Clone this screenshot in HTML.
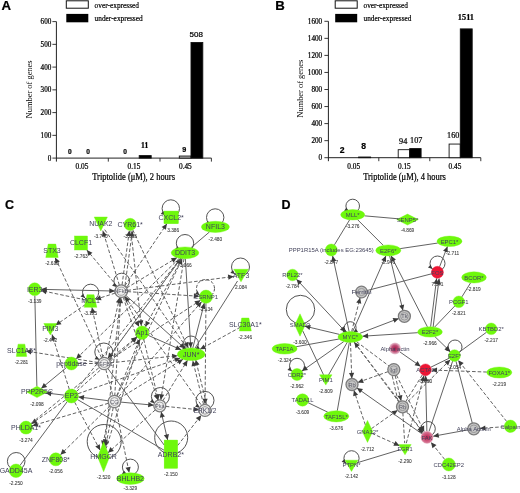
<!DOCTYPE html><html><head><meta charset="utf-8"><style>html,body{margin:0;padding:0;background:#fff;}svg{display:block}</style></head><body>
<svg width="520" height="493" viewBox="0 0 520 493">
<rect width="520" height="493" fill="#fff"/>
<line x1="56.4" y1="21.6" x2="56.4" y2="161.6" stroke="#222" stroke-width="1"/>
<line x1="56.4" y1="158.1" x2="211.4" y2="158.1" stroke="#222" stroke-width="1"/>
<line x1="108.3" y1="158.1" x2="108.3" y2="161.6" stroke="#222" stroke-width="0.9"/>
<line x1="160" y1="158.1" x2="160" y2="161.6" stroke="#222" stroke-width="0.9"/>
<line x1="211.4" y1="158.1" x2="211.4" y2="161.6" stroke="#222" stroke-width="0.9"/>
<line x1="52.4" y1="158.10" x2="56.4" y2="158.10" stroke="#222" stroke-width="0.9"/>
<text x="51.4" y="160.5" font-family="'Liberation Serif', serif" font-size="7.2" text-anchor="end" font-weight="normal" fill="#000" stroke="#000" stroke-width="0.22">0</text>
<line x1="52.4" y1="135.35" x2="56.4" y2="135.35" stroke="#222" stroke-width="0.9"/>
<text x="51.4" y="137.75" font-family="'Liberation Serif', serif" font-size="7.2" text-anchor="end" font-weight="normal" fill="#000" stroke="#000" stroke-width="0.22">100</text>
<line x1="52.4" y1="112.60" x2="56.4" y2="112.60" stroke="#222" stroke-width="0.9"/>
<text x="51.4" y="115.0" font-family="'Liberation Serif', serif" font-size="7.2" text-anchor="end" font-weight="normal" fill="#000" stroke="#000" stroke-width="0.22">200</text>
<line x1="52.4" y1="89.85" x2="56.4" y2="89.85" stroke="#222" stroke-width="0.9"/>
<text x="51.4" y="92.25" font-family="'Liberation Serif', serif" font-size="7.2" text-anchor="end" font-weight="normal" fill="#000" stroke="#000" stroke-width="0.22">300</text>
<line x1="52.4" y1="67.10" x2="56.4" y2="67.10" stroke="#222" stroke-width="0.9"/>
<text x="51.4" y="69.5" font-family="'Liberation Serif', serif" font-size="7.2" text-anchor="end" font-weight="normal" fill="#000" stroke="#000" stroke-width="0.22">400</text>
<line x1="52.4" y1="44.35" x2="56.4" y2="44.35" stroke="#222" stroke-width="0.9"/>
<text x="51.4" y="46.75" font-family="'Liberation Serif', serif" font-size="7.2" text-anchor="end" font-weight="normal" fill="#000" stroke="#000" stroke-width="0.22">500</text>
<line x1="52.4" y1="21.60" x2="56.4" y2="21.60" stroke="#222" stroke-width="0.9"/>
<text x="51.4" y="24.0" font-family="'Liberation Serif', serif" font-size="7.2" text-anchor="end" font-weight="normal" fill="#000" stroke="#000" stroke-width="0.22">600</text>
<rect x="139.2" y="155.60" width="12.0" height="2.50" fill="#000" stroke="#111" stroke-width="0.9"/>
<rect x="179.3" y="156.05" width="11.699999999999989" height="2.05" fill="#bbb" stroke="#111" stroke-width="0.9"/>
<rect x="191" y="42.53" width="11.800000000000011" height="115.57" fill="#000" stroke="#111" stroke-width="0.9"/>
<text x="69.8" y="154.3" font-family="'Liberation Sans', sans-serif" font-size="6.6" text-anchor="middle" font-weight="bold" fill="#000" stroke="#000" stroke-width="0.22">0</text>
<text x="88" y="154.3" font-family="'Liberation Sans', sans-serif" font-size="6.6" text-anchor="middle" font-weight="bold" fill="#000" stroke="#000" stroke-width="0.22">0</text>
<text x="125.2" y="154.3" font-family="'Liberation Sans', sans-serif" font-size="6.6" text-anchor="middle" font-weight="bold" fill="#000" stroke="#000" stroke-width="0.22">0</text>
<text x="144.7" y="147.7" font-family="'Liberation Serif', serif" font-size="7.6" text-anchor="middle" font-weight="bold" fill="#000" stroke="#000" stroke-width="0.22">11</text>
<text x="184.2" y="151.8" font-family="'Liberation Sans', sans-serif" font-size="7.2" text-anchor="middle" font-weight="bold" fill="#000" stroke="#000" stroke-width="0.22">9</text>
<text x="196.2" y="36.9" font-family="'Liberation Sans', sans-serif" font-size="8.0" text-anchor="middle" font-weight="normal" fill="#000" stroke="#000" stroke-width="0.22">508</text>
<text x="82" y="168.7" font-family="'Liberation Serif', serif" font-size="7.3" text-anchor="middle" font-weight="normal" fill="#000" stroke="#000" stroke-width="0.22">0.05</text>
<text x="134" y="168.7" font-family="'Liberation Serif', serif" font-size="7.3" text-anchor="middle" font-weight="normal" fill="#000" stroke="#000" stroke-width="0.22">0.15</text>
<text x="185.4" y="168.7" font-family="'Liberation Serif', serif" font-size="7.3" text-anchor="middle" font-weight="normal" fill="#000" stroke="#000" stroke-width="0.22">0.45</text>
<text x="133.6" y="179.8" font-family="'Liberation Serif', serif" font-size="9.5" text-anchor="middle" font-weight="normal" fill="#000" textLength="82.7" lengthAdjust="spacingAndGlyphs" stroke="#000" stroke-width="0.22">Triptolide (μM), 2 hours</text>
<text transform="translate(32.3,89.4) rotate(-90)" font-family="'Liberation Serif', serif" font-size="8.2" text-anchor="middle" textLength="58" lengthAdjust="spacingAndGlyphs">Number of genes</text>
<rect x="66.3" y="0.8" width="22" height="7.4" fill="#fff" stroke="#111" stroke-width="1"/>
<rect x="66.3" y="13.9" width="22" height="8.4" fill="#000"/>
<text x="94.6" y="7.8999999999999995" font-family="'Liberation Serif', serif" font-size="9.2" text-anchor="start" font-weight="normal" fill="#000" textLength="44.4" lengthAdjust="spacingAndGlyphs" stroke="#000" stroke-width="0.22">over-expressed</text>
<text x="94.6" y="21.2" font-family="'Liberation Serif', serif" font-size="9.2" text-anchor="start" font-weight="normal" fill="#000" textLength="48" lengthAdjust="spacingAndGlyphs" stroke="#000" stroke-width="0.22">under-expressed</text>
<text x="1.5" y="9.6" font-family="'Liberation Sans', sans-serif" font-size="13.2" text-anchor="start" font-weight="bold" fill="#000" stroke="#000" stroke-width="0.22">A</text>
<line x1="328.4" y1="21.3" x2="328.4" y2="161.2" stroke="#222" stroke-width="1"/>
<line x1="328.4" y1="157.7" x2="480.8" y2="157.7" stroke="#222" stroke-width="1"/>
<line x1="378.8" y1="157.7" x2="378.8" y2="161.2" stroke="#222" stroke-width="0.9"/>
<line x1="429.8" y1="157.7" x2="429.8" y2="161.2" stroke="#222" stroke-width="0.9"/>
<line x1="480.8" y1="157.7" x2="480.8" y2="161.2" stroke="#222" stroke-width="0.9"/>
<line x1="324.4" y1="157.70" x2="328.4" y2="157.70" stroke="#222" stroke-width="0.9"/>
<text x="322.2" y="160.1" font-family="'Liberation Serif', serif" font-size="7.2" text-anchor="end" font-weight="normal" fill="#000" stroke="#000" stroke-width="0.22">0</text>
<line x1="324.4" y1="140.65" x2="328.4" y2="140.65" stroke="#222" stroke-width="0.9"/>
<text x="322.2" y="143.05" font-family="'Liberation Serif', serif" font-size="7.2" text-anchor="end" font-weight="normal" fill="#000" stroke="#000" stroke-width="0.22">200</text>
<line x1="324.4" y1="123.60" x2="328.4" y2="123.60" stroke="#222" stroke-width="0.9"/>
<text x="322.2" y="126.0" font-family="'Liberation Serif', serif" font-size="7.2" text-anchor="end" font-weight="normal" fill="#000" stroke="#000" stroke-width="0.22">400</text>
<line x1="324.4" y1="106.55" x2="328.4" y2="106.55" stroke="#222" stroke-width="0.9"/>
<text x="322.2" y="108.95" font-family="'Liberation Serif', serif" font-size="7.2" text-anchor="end" font-weight="normal" fill="#000" stroke="#000" stroke-width="0.22">600</text>
<line x1="324.4" y1="89.50" x2="328.4" y2="89.50" stroke="#222" stroke-width="0.9"/>
<text x="322.2" y="91.9" font-family="'Liberation Serif', serif" font-size="7.2" text-anchor="end" font-weight="normal" fill="#000" stroke="#000" stroke-width="0.22">800</text>
<line x1="324.4" y1="72.45" x2="328.4" y2="72.45" stroke="#222" stroke-width="0.9"/>
<text x="322.2" y="74.85" font-family="'Liberation Serif', serif" font-size="7.2" text-anchor="end" font-weight="normal" fill="#000" stroke="#000" stroke-width="0.22">1000</text>
<line x1="324.4" y1="55.40" x2="328.4" y2="55.40" stroke="#222" stroke-width="0.9"/>
<text x="322.2" y="57.8" font-family="'Liberation Serif', serif" font-size="7.2" text-anchor="end" font-weight="normal" fill="#000" stroke="#000" stroke-width="0.22">1200</text>
<line x1="324.4" y1="38.35" x2="328.4" y2="38.35" stroke="#222" stroke-width="0.9"/>
<text x="322.2" y="40.75" font-family="'Liberation Serif', serif" font-size="7.2" text-anchor="end" font-weight="normal" fill="#000" stroke="#000" stroke-width="0.22">1400</text>
<line x1="324.4" y1="21.30" x2="328.4" y2="21.30" stroke="#222" stroke-width="0.9"/>
<text x="322.2" y="23.7" font-family="'Liberation Serif', serif" font-size="7.2" text-anchor="end" font-weight="normal" fill="#000" stroke="#000" stroke-width="0.22">1600</text>
<rect x="358.6" y="157.02" width="12.0" height="0.68" fill="#000" stroke="#111" stroke-width="0.9"/>
<rect x="398.2" y="149.69" width="11.5" height="8.01" fill="#fff" stroke="#111" stroke-width="0.9"/>
<rect x="409.7" y="148.58" width="11.400000000000034" height="9.12" fill="#000" stroke="#111" stroke-width="0.9"/>
<rect x="449.1" y="144.06" width="11.199999999999989" height="13.64" fill="#fff" stroke="#111" stroke-width="0.9"/>
<rect x="460.3" y="28.89" width="11.899999999999977" height="128.81" fill="#000" stroke="#111" stroke-width="0.9"/>
<text x="342.1" y="152.8" font-family="'Liberation Sans', sans-serif" font-size="8.6" text-anchor="middle" font-weight="bold" fill="#000" stroke="#000" stroke-width="0.22">2</text>
<text x="363.6" y="148.6" font-family="'Liberation Sans', sans-serif" font-size="8.6" text-anchor="middle" font-weight="bold" fill="#000" stroke="#000" stroke-width="0.22">8</text>
<text x="403.2" y="144.0" font-family="'Liberation Serif', serif" font-size="8.2" text-anchor="middle" font-weight="normal" fill="#000" stroke="#000" stroke-width="0.22">94</text>
<text x="416.2" y="143.1" font-family="'Liberation Serif', serif" font-size="8.2" text-anchor="middle" font-weight="normal" fill="#000" stroke="#000" stroke-width="0.22">107</text>
<text x="453.2" y="138.3" font-family="'Liberation Serif', serif" font-size="8.2" text-anchor="middle" font-weight="normal" fill="#000" stroke="#000" stroke-width="0.22">160</text>
<text x="465.9" y="20.0" font-family="'Liberation Serif', serif" font-size="8.3" text-anchor="middle" font-weight="bold" fill="#000" stroke="#000" stroke-width="0.22">1511</text>
<text x="353.7" y="168.7" font-family="'Liberation Serif', serif" font-size="7.3" text-anchor="middle" font-weight="normal" fill="#000" stroke="#000" stroke-width="0.22">0.05</text>
<text x="404.4" y="168.7" font-family="'Liberation Serif', serif" font-size="7.3" text-anchor="middle" font-weight="normal" fill="#000" stroke="#000" stroke-width="0.22">0.15</text>
<text x="455" y="168.7" font-family="'Liberation Serif', serif" font-size="7.3" text-anchor="middle" font-weight="normal" fill="#000" stroke="#000" stroke-width="0.22">0.45</text>
<text x="404.5" y="180.3" font-family="'Liberation Serif', serif" font-size="9.5" text-anchor="middle" font-weight="normal" fill="#000" textLength="82.6" lengthAdjust="spacingAndGlyphs" stroke="#000" stroke-width="0.22">Triptolide (μM), 4 hours</text>
<text transform="translate(302.5,88.7) rotate(-90)" font-family="'Liberation Serif', serif" font-size="8.2" text-anchor="middle" textLength="58" lengthAdjust="spacingAndGlyphs">Number of genes</text>
<rect x="335.2" y="0.8" width="22" height="7.4" fill="#fff" stroke="#111" stroke-width="1"/>
<rect x="335.2" y="13.9" width="22" height="8.4" fill="#000"/>
<text x="363.5" y="7.8999999999999995" font-family="'Liberation Serif', serif" font-size="9.2" text-anchor="start" font-weight="normal" fill="#000" textLength="44.4" lengthAdjust="spacingAndGlyphs" stroke="#000" stroke-width="0.22">over-expressed</text>
<text x="363.5" y="21.2" font-family="'Liberation Serif', serif" font-size="9.2" text-anchor="start" font-weight="normal" fill="#000" textLength="48" lengthAdjust="spacingAndGlyphs" stroke="#000" stroke-width="0.22">under-expressed</text>
<text x="275.3" y="9.6" font-family="'Liberation Sans', sans-serif" font-size="13.2" text-anchor="start" font-weight="bold" fill="#000" stroke="#000" stroke-width="0.22">B</text>
<defs><radialGradient id="gpink" cx="0.5" cy="0.5" r="0.5"><stop offset="0" stop-color="#a01848"/><stop offset="0.55" stop-color="#c05078"/><stop offset="1" stop-color="#ecd0da"/></radialGradient><radialGradient id="gpink2" cx="0.5" cy="0.5" r="0.5"><stop offset="0" stop-color="#c01848"/><stop offset="0.8" stop-color="#d47090"/><stop offset="1" stop-color="#e8b0c0"/></radialGradient></defs>
<circle cx="170.8" cy="208.5" r="8.7" fill="none" stroke="#4a4a4a" stroke-width="0.95"/>
<circle cx="215.2" cy="217.5" r="8.7" fill="none" stroke="#4a4a4a" stroke-width="0.95"/>
<circle cx="185" cy="243.2" r="8.7" fill="none" stroke="#4a4a4a" stroke-width="0.95"/>
<circle cx="240.5" cy="267" r="9" fill="none" stroke="#4a4a4a" stroke-width="0.95"/>
<circle cx="90.6" cy="292.3" r="8.1" fill="none" stroke="#4a4a4a" stroke-width="0.95"/>
<circle cx="121.7" cy="281" r="7.8" fill="none" stroke="#4a4a4a" stroke-width="0.95"/>
<circle cx="205.5" cy="288.5" r="9" fill="none" stroke="#4a4a4a" stroke-width="0.95" stroke-dasharray="3 1.8"/>
<circle cx="103.8" cy="352" r="9" fill="none" stroke="#4a4a4a" stroke-width="0.95"/>
<circle cx="191" cy="343.5" r="7.5" fill="none" stroke="#4a4a4a" stroke-width="0.95"/>
<circle cx="160.4" cy="396.5" r="9" fill="none" stroke="#4a4a4a" stroke-width="0.95"/>
<circle cx="205" cy="400.4" r="9" fill="none" stroke="#4a4a4a" stroke-width="0.95"/>
<circle cx="16.2" cy="461.3" r="8.8" fill="none" stroke="#4a4a4a" stroke-width="0.95"/>
<circle cx="104.2" cy="441.5" r="17" fill="none" stroke="#4a4a4a" stroke-width="0.95"/>
<circle cx="171.2" cy="437.5" r="16.5" fill="none" stroke="#4a4a4a" stroke-width="0.95"/>
<circle cx="130.4" cy="467.1" r="8" fill="none" stroke="#4a4a4a" stroke-width="0.95"/>
<line x1="117.16" y1="286.36" x2="86.84" y2="250.00" stroke="#5a5a5a" stroke-width="0.95" stroke-dasharray="3.6 2.0"/>
<path d="M86.84,250.00 L92.42,252.64 L88.43,255.97Z" fill="#3a3a3a"/>
<line x1="119.37" y1="285.17" x2="102.82" y2="230.66" stroke="#5a5a5a" stroke-width="0.95" stroke-dasharray="3.6 2.0"/>
<path d="M102.82,230.66 L106.94,235.27 L101.96,236.78Z" fill="#3a3a3a"/>
<line x1="122.04" y1="284.96" x2="129.39" y2="230.45" stroke="#5a5a5a" stroke-width="0.95" stroke-dasharray="3.6 2.0"/>
<path d="M129.39,230.45 L131.21,236.34 L126.06,235.65Z" fill="#3a3a3a"/>
<line x1="125.01" y1="285.36" x2="132.36" y2="230.85" stroke="#5a5a5a" stroke-width="0.95" stroke-dasharray="3.6 2.0"/>
<path d="M132.36,230.85 L134.19,236.74 L129.03,236.05Z" fill="#3a3a3a"/>
<line x1="124.73" y1="285.98" x2="166.90" y2="223.75" stroke="#5a5a5a" stroke-width="0.95" stroke-dasharray="3.6 2.0"/>
<path d="M166.90,223.75 L165.91,229.84 L161.60,226.93Z" fill="#3a3a3a"/>
<line x1="126.60" y1="287.95" x2="177.01" y2="257.61" stroke="#5a5a5a" stroke-width="0.95" stroke-dasharray="3.6 2.0"/>
<path d="M177.01,257.61 L173.55,262.73 L170.87,258.27Z" fill="#3a3a3a"/>
<line x1="41.10" y1="289.35" x2="114.90" y2="291.05" stroke="#5a5a5a" stroke-width="0.95"/>
<path d="M114.90,291.05 L109.24,293.52 L109.36,288.33Z" fill="#3a3a3a"/>
<path d="M41.10,289.35 L46.76,286.88 L46.64,292.08Z" fill="#3a3a3a"/>
<line x1="85.60" y1="299.96" x2="40.96" y2="290.52" stroke="#5a5a5a" stroke-width="0.95" stroke-dasharray="3.6 2.0"/>
<path d="M40.96,290.52 L46.98,289.14 L45.90,294.23Z" fill="#3a3a3a"/>
<line x1="115.20" y1="293.12" x2="95.40" y2="299.44" stroke="#5a5a5a" stroke-width="0.95" stroke-dasharray="3.6 2.0"/>
<path d="M95.40,299.44 L99.94,295.26 L101.53,300.21Z" fill="#3a3a3a"/>
<line x1="124.03" y1="296.83" x2="139.09" y2="326.72" stroke="#5a5a5a" stroke-width="0.95" stroke-dasharray="3.6 2.0"/>
<path d="M139.09,326.72 L134.25,322.88 L138.89,320.55Z" fill="#3a3a3a"/>
<line x1="125.88" y1="295.41" x2="184.96" y2="348.58" stroke="#5a5a5a" stroke-width="0.95"/>
<path d="M184.96,348.58 L179.06,346.77 L182.53,342.90Z" fill="#3a3a3a"/>
<line x1="127.49" y1="291.61" x2="199.41" y2="296.27" stroke="#5a5a5a" stroke-width="0.95" stroke-dasharray="3.6 2.0"/>
<path d="M199.41,296.27 L193.66,298.50 L193.99,293.32Z" fill="#3a3a3a"/>
<line x1="127.45" y1="290.38" x2="233.78" y2="276.45" stroke="#5a5a5a" stroke-width="0.95" stroke-dasharray="3.6 2.0"/>
<path d="M233.78,276.45 L228.57,279.75 L227.89,274.60Z" fill="#3a3a3a"/>
<line x1="119.76" y1="297.33" x2="105.62" y2="357.46" stroke="#5a5a5a" stroke-width="0.95" stroke-dasharray="3.6 2.0"/>
<path d="M119.76,297.33 L121.01,303.38 L115.95,302.19Z" fill="#3a3a3a"/>
<line x1="120.81" y1="297.49" x2="114.78" y2="395.31" stroke="#5a5a5a" stroke-width="0.95" stroke-dasharray="3.6 2.0"/>
<path d="M120.81,297.49 L123.06,303.24 L117.87,302.92Z" fill="#3a3a3a"/>
<line x1="120.53" y1="297.46" x2="104.86" y2="444.95" stroke="#5a5a5a" stroke-width="0.95" stroke-dasharray="3.6 2.0"/>
<path d="M104.86,444.95 L102.87,439.11 L108.04,439.65Z" fill="#3a3a3a"/>
<line x1="85.60" y1="304.40" x2="55.40" y2="325.36" stroke="#5a5a5a" stroke-width="0.95" stroke-dasharray="3.6 2.0"/>
<path d="M55.40,325.36 L58.51,320.03 L61.48,324.31Z" fill="#3a3a3a"/>
<line x1="124.82" y1="296.35" x2="201.55" y2="405.49" stroke="#5a5a5a" stroke-width="0.95" stroke-dasharray="3.6 2.0"/>
<path d="M124.82,296.35 L130.17,299.44 L125.92,302.43Z" fill="#3a3a3a"/>
<line x1="101.59" y1="357.87" x2="55.10" y2="257.50" stroke="#5a5a5a" stroke-width="0.95" stroke-dasharray="3.6 2.0"/>
<path d="M55.10,257.50 L59.82,261.49 L55.10,263.67Z" fill="#3a3a3a"/>
<line x1="98.08" y1="362.52" x2="25.80" y2="350.99" stroke="#5a5a5a" stroke-width="0.95" stroke-dasharray="3.6 2.0"/>
<path d="M25.80,350.99 L31.74,349.30 L30.92,354.44Z" fill="#3a3a3a"/>
<line x1="110.36" y1="362.84" x2="177.76" y2="355.64" stroke="#5a5a5a" stroke-width="0.95" stroke-dasharray="3.6 2.0"/>
<path d="M177.76,355.64 L172.47,358.82 L171.92,353.65Z" fill="#3a3a3a"/>
<line x1="109.01" y1="359.59" x2="136.90" y2="336.93" stroke="#5a5a5a" stroke-width="0.95" stroke-dasharray="3.6 2.0"/>
<path d="M136.90,336.93 L134.19,342.47 L130.91,338.44Z" fill="#3a3a3a"/>
<line x1="107.86" y1="358.49" x2="180.89" y2="258.43" stroke="#5a5a5a" stroke-width="0.95" stroke-dasharray="3.6 2.0"/>
<path d="M180.89,258.43 L179.69,264.49 L175.49,261.42Z" fill="#3a3a3a"/>
<line x1="109.38" y1="360.10" x2="200.48" y2="300.32" stroke="#5a5a5a" stroke-width="0.95" stroke-dasharray="3.6 2.0"/>
<path d="M200.48,300.32 L197.23,305.57 L194.37,301.22Z" fill="#3a3a3a"/>
<line x1="105.81" y1="369.49" x2="112.79" y2="395.51" stroke="#5a5a5a" stroke-width="0.95" stroke-dasharray="3.6 2.0"/>
<line x1="102.87" y1="357.44" x2="91.89" y2="307.35" stroke="#5a5a5a" stroke-width="0.95" stroke-dasharray="3.6 2.0"/>
<path d="M91.89,307.35 L95.63,312.26 L90.55,313.38Z" fill="#3a3a3a"/>
<line x1="108.25" y1="400.71" x2="78.34" y2="396.89" stroke="#5a5a5a" stroke-width="0.95"/>
<path d="M78.34,396.89 L84.23,395.02 L83.57,400.18Z" fill="#3a3a3a"/>
<line x1="113.21" y1="407.59" x2="105.57" y2="446.72" stroke="#5a5a5a" stroke-width="0.95" stroke-dasharray="3.6 2.0"/>
<path d="M105.57,446.72 L104.09,440.73 L109.19,441.72Z" fill="#3a3a3a"/>
<line x1="110.27" y1="407.01" x2="102.62" y2="446.15" stroke="#5a5a5a" stroke-width="0.95" stroke-dasharray="3.6 2.0"/>
<path d="M102.62,446.15 L101.15,440.15 L106.25,441.15Z" fill="#3a3a3a"/>
<line x1="115.66" y1="407.57" x2="129.20" y2="472.82" stroke="#5a5a5a" stroke-width="0.95" stroke-dasharray="3.6 2.0"/>
<path d="M129.20,472.82 L125.52,467.87 L130.61,466.81Z" fill="#3a3a3a"/>
<line x1="109.99" y1="405.85" x2="60.43" y2="454.74" stroke="#5a5a5a" stroke-width="0.95" stroke-dasharray="3.6 2.0"/>
<path d="M60.43,454.74 L62.59,448.95 L66.24,452.65Z" fill="#3a3a3a"/>
<line x1="108.45" y1="403.26" x2="32.23" y2="425.76" stroke="#5a5a5a" stroke-width="0.95" stroke-dasharray="3.6 2.0"/>
<path d="M32.23,425.76 L36.87,421.68 L38.34,426.67Z" fill="#3a3a3a"/>
<line x1="119.68" y1="398.25" x2="182.98" y2="359.26" stroke="#5a5a5a" stroke-width="0.95" stroke-dasharray="3.6 2.0"/>
<path d="M182.98,359.26 L179.58,364.41 L176.85,359.98Z" fill="#3a3a3a"/>
<line x1="117.06" y1="395.90" x2="182.25" y2="258.58" stroke="#5a5a5a" stroke-width="0.95" stroke-dasharray="3.6 2.0"/>
<path d="M182.25,258.58 L182.20,264.76 L177.50,262.53Z" fill="#3a3a3a"/>
<line x1="120.57" y1="402.08" x2="153.83" y2="405.23" stroke="#5a5a5a" stroke-width="0.95"/>
<path d="M153.83,405.23 L148.01,407.29 L148.50,402.12Z" fill="#3a3a3a"/>
<line x1="123.21" y1="297.17" x2="157.88" y2="400.11" stroke="#5a5a5a" stroke-width="0.95" stroke-dasharray="3.6 2.0"/>
<path d="M157.88,400.11 L153.63,395.64 L158.56,393.98Z" fill="#3a3a3a"/>
<line x1="161.14" y1="411.65" x2="167.65" y2="440.05" stroke="#5a5a5a" stroke-width="0.95"/>
<path d="M167.65,440.05 L163.87,435.17 L168.94,434.01Z" fill="#3a3a3a"/>
<path d="M161.14,411.65 L164.93,416.53 L159.86,417.69Z" fill="#3a3a3a"/>
<line x1="165.77" y1="406.41" x2="199.03" y2="409.79" stroke="#5a5a5a" stroke-width="0.95" stroke-dasharray="3.6 2.0"/>
<path d="M199.03,409.79 L193.20,411.81 L193.72,406.64Z" fill="#3a3a3a"/>
<line x1="143.68" y1="339.21" x2="158.39" y2="399.97" stroke="#5a5a5a" stroke-width="0.95" stroke-dasharray="3.6 2.0"/>
<path d="M158.39,399.97 L154.54,395.14 L159.60,393.91Z" fill="#3a3a3a"/>
<line x1="184.03" y1="258.69" x2="160.78" y2="399.88" stroke="#5a5a5a" stroke-width="0.95" stroke-dasharray="3.6 2.0"/>
<path d="M160.78,399.88 L159.12,393.93 L164.25,394.78Z" fill="#3a3a3a"/>
<line x1="177.65" y1="445.53" x2="201.31" y2="415.13" stroke="#5a5a5a" stroke-width="0.95" stroke-dasharray="3.6 2.0"/>
<path d="M201.31,415.13 L199.93,421.15 L195.82,417.96Z" fill="#3a3a3a"/>
<line x1="203.57" y1="404.57" x2="192.74" y2="360.46" stroke="#5a5a5a" stroke-width="0.95" stroke-dasharray="3.6 2.0"/>
<path d="M192.74,360.46 L196.60,365.28 L191.55,366.52Z" fill="#3a3a3a"/>
<line x1="195.03" y1="348.15" x2="237.52" y2="281.00" stroke="#5a5a5a" stroke-width="0.95"/>
<line x1="192.81" y1="347.94" x2="204.35" y2="303.09" stroke="#5a5a5a" stroke-width="0.95"/>
<path d="M204.35,303.09 L205.48,309.16 L200.44,307.87Z" fill="#3a3a3a"/>
<line x1="191.19" y1="247.53" x2="209.45" y2="231.97" stroke="#5a5a5a" stroke-width="0.95"/>
<line x1="185.36" y1="258.70" x2="190.81" y2="347.90" stroke="#5a5a5a" stroke-width="0.95"/>
<path d="M190.81,347.90 L187.88,342.47 L193.07,342.15Z" fill="#3a3a3a"/>
<line x1="240.50" y1="327.14" x2="200.02" y2="349.36" stroke="#5a5a5a" stroke-width="0.95" stroke-dasharray="3.6 2.0"/>
<path d="M200.02,349.36 L203.68,344.38 L206.18,348.94Z" fill="#3a3a3a"/>
<line x1="64.45" y1="395.17" x2="45.61" y2="392.93" stroke="#5a5a5a" stroke-width="0.95"/>
<path d="M45.61,392.93 L51.48,391.01 L50.86,396.17Z" fill="#3a3a3a"/>
<line x1="67.23" y1="401.63" x2="20.05" y2="465.34" stroke="#5a5a5a" stroke-width="0.95"/>
<line x1="65.65" y1="400.00" x2="31.33" y2="423.89" stroke="#5a5a5a" stroke-width="0.95" stroke-dasharray="3.6 2.0"/>
<path d="M31.33,423.89 L34.45,418.55 L37.42,422.82Z" fill="#3a3a3a"/>
<line x1="66.39" y1="367.64" x2="41.17" y2="388.46" stroke="#5a5a5a" stroke-width="0.95"/>
<path d="M41.17,388.46 L43.83,382.89 L47.14,386.90Z" fill="#3a3a3a"/>
<line x1="34.84" y1="295.60" x2="36.87" y2="386.27" stroke="#5a5a5a" stroke-width="0.95"/>
<line x1="148.24" y1="335.39" x2="181.24" y2="349.84" stroke="#5a5a5a" stroke-width="0.95"/>
<path d="M181.24,349.84 L175.07,349.97 L177.15,345.21Z" fill="#3a3a3a"/>
<line x1="130.87" y1="230.46" x2="141.37" y2="326.04" stroke="#5a5a5a" stroke-width="0.95" stroke-dasharray="3.6 2.0"/>
<path d="M141.37,326.04 L138.17,320.76 L143.34,320.19Z" fill="#3a3a3a"/>
<line x1="132.79" y1="229.92" x2="188.31" y2="348.04" stroke="#5a5a5a" stroke-width="0.95" stroke-dasharray="3.6 2.0"/>
<path d="M188.31,348.04 L183.57,344.08 L188.28,341.87Z" fill="#3a3a3a"/>
<line x1="181.91" y1="258.55" x2="145.27" y2="326.80" stroke="#5a5a5a" stroke-width="0.95" stroke-dasharray="3.6 2.0"/>
<path d="M145.27,326.80 L145.63,320.63 L150.21,323.09Z" fill="#3a3a3a"/>
<line x1="179.46" y1="258.20" x2="76.06" y2="358.96" stroke="#5a5a5a" stroke-width="0.95" stroke-dasharray="3.6 2.0"/>
<path d="M76.06,358.96 L78.25,353.19 L81.88,356.92Z" fill="#3a3a3a"/>
<line x1="104.71" y1="229.64" x2="187.03" y2="348.19" stroke="#5a5a5a" stroke-width="0.95" stroke-dasharray="3.6 2.0"/>
<line x1="107.87" y1="368.49" x2="164.15" y2="445.02" stroke="#5a5a5a" stroke-width="0.95"/>
<line x1="205.94" y1="303.30" x2="205.05" y2="404.40" stroke="#5a5a5a" stroke-width="0.95" stroke-dasharray="3.6 2.0"/>
<path d="M205.05,404.40 L202.50,398.78 L207.70,398.82Z" fill="#3a3a3a"/>
<line x1="77.44" y1="399.53" x2="164.15" y2="450.25" stroke="#5a5a5a" stroke-width="0.95"/>
<line x1="74.68" y1="402.19" x2="100.18" y2="450.35" stroke="#5a5a5a" stroke-width="0.95" stroke-dasharray="3.6 2.0"/>
<path d="M100.18,450.35 L95.26,446.61 L99.86,444.18Z" fill="#3a3a3a"/>
<line x1="155.36" y1="409.83" x2="108.00" y2="452.81" stroke="#5a5a5a" stroke-width="0.95" stroke-dasharray="3.6 2.0"/>
<path d="M108.00,452.81 L110.40,447.12 L113.90,450.97Z" fill="#3a3a3a"/>
<line x1="69.30" y1="389.32" x2="52.03" y2="334.39" stroke="#5a5a5a" stroke-width="0.95" stroke-dasharray="3.6 2.0"/>
<path d="M52.03,334.39 L56.19,338.96 L51.23,340.52Z" fill="#3a3a3a"/>
<line x1="162.92" y1="400.67" x2="187.51" y2="360.27" stroke="#5a5a5a" stroke-width="0.95" stroke-dasharray="3.6 2.0"/>
<path d="M187.51,360.27 L186.82,366.41 L182.37,363.70Z" fill="#3a3a3a"/>
<line x1="206.48" y1="403.86" x2="195.65" y2="359.75" stroke="#5a5a5a" stroke-width="0.95" stroke-dasharray="3.6 2.0"/>
<path d="M195.65,359.75 L199.51,364.56 L194.46,365.80Z" fill="#3a3a3a"/>
<line x1="180.57" y1="258.39" x2="75.75" y2="390.52" stroke="#5a5a5a" stroke-width="0.95" stroke-dasharray="3.6 2.0"/>
<line x1="140.11" y1="339.10" x2="106.22" y2="448.35" stroke="#5a5a5a" stroke-width="0.95" stroke-dasharray="3.6 2.0"/>
<line x1="180.89" y1="258.43" x2="107.86" y2="358.49" stroke="#5a5a5a" stroke-width="0.95" stroke-dasharray="3.6 2.0"/>
<path d="M107.86,358.49 L109.06,352.44 L113.26,355.50Z" fill="#3a3a3a"/>
<line x1="76.62" y1="391.33" x2="137.11" y2="337.17" stroke="#5a5a5a" stroke-width="0.95" stroke-dasharray="3.6 2.0"/>
<path d="M137.11,337.17 L134.67,342.84 L131.20,338.97Z" fill="#3a3a3a"/>
<line x1="78.01" y1="393.69" x2="180.24" y2="358.03" stroke="#5a5a5a" stroke-width="0.95" stroke-dasharray="3.6 2.0"/>
<path d="M180.24,358.03 L175.80,362.33 L174.09,357.42Z" fill="#3a3a3a"/>
<line x1="116.72" y1="395.75" x2="139.60" y2="338.92" stroke="#5a5a5a" stroke-width="0.95" stroke-dasharray="3.6 2.0"/>
<path d="M139.60,338.92 L139.92,345.08 L135.09,343.14Z" fill="#3a3a3a"/>
<line x1="77.90" y1="363.50" x2="98.00" y2="363.50" stroke="#5a5a5a" stroke-width="0.95" stroke-dasharray="3.6 2.0"/>
<line x1="31.03" y1="423.48" x2="99.41" y2="367.43" stroke="#5a5a5a" stroke-width="0.95" stroke-dasharray="3.6 2.0"/>
<line x1="118.48" y1="396.83" x2="201.66" y2="301.67" stroke="#5a5a5a" stroke-width="0.95" stroke-dasharray="3.6 2.0"/>
<path d="M201.66,301.67 L199.93,307.60 L196.01,304.17Z" fill="#3a3a3a"/>
<path d="M165.24,215.19 L160.73,214.05 L163.29,210.97Z" fill="#3a3a3a"/>
<path d="M210.26,224.66 L205.67,223.93 L207.94,220.63Z" fill="#3a3a3a"/>
<path d="M179.74,250.13 L175.18,249.18 L177.60,246.00Z" fill="#3a3a3a"/>
<path d="M234.92,274.06 L230.38,273.02 L232.86,269.88Z" fill="#3a3a3a"/>
<path d="M84.88,298.04 L80.50,296.49 L83.32,293.66Z" fill="#3a3a3a"/>
<path d="M116.60,286.90 L112.11,285.66 L114.73,282.64Z" fill="#3a3a3a"/>
<path d="M199.56,295.26 L195.08,293.99 L197.72,290.99Z" fill="#3a3a3a"/>
<path d="M99.25,359.77 L94.62,359.37 L96.64,355.92Z" fill="#3a3a3a"/>
<path d="M186.79,349.70 L182.19,349.00 L184.44,345.69Z" fill="#3a3a3a"/>
<path d="M195.44,349.54 L197.64,345.44 L200.01,348.67Z" fill="#3a3a3a"/>
<path d="M154.39,403.20 L149.93,401.89 L152.60,398.91Z" fill="#3a3a3a"/>
<path d="M199.67,407.65 L195.10,406.77 L197.47,403.55Z" fill="#3a3a3a"/>
<path d="M126.66,474.17 L122.01,473.97 L123.88,470.44Z" fill="#3a3a3a"/>
<path d="M94.20,217.00 L107.40,217.00 L100.80,231.00Z" fill="#6ef80c" stroke="#6ef80c" stroke-width="0.4"/>
<circle cx="130.2" cy="224.4" r="6.1" fill="#6ef80c" stroke="#6ef80c" stroke-width="0.4"/>
<rect x="163.95" y="211.05" width="14.5" height="12.7" fill="#6ef80c" stroke="#6ef80c" stroke-width="0.4"/>
<ellipse cx="215.4" cy="226.9" rx="14" ry="5.6" fill="#6ef80c" stroke="#6ef80c" stroke-width="0.4"/>
<rect x="74.50" y="236.00" width="13" height="14" fill="#6ef80c" stroke="#6ef80c" stroke-width="0.4"/>
<path d="M48.20,244.10 L55.80,244.10 L58.20,257.50 L45.80,257.50Z" fill="#6ef80c" stroke="#6ef80c" stroke-width="0.4"/>
<ellipse cx="185" cy="252.8" rx="13.8" ry="5.9" fill="#6ef80c" stroke="#6ef80c" stroke-width="0.4"/>
<path d="M233.70,269.30 L248.30,269.30 L241.00,281.80Z" fill="#6ef80c" stroke="#6ef80c" stroke-width="0.4"/>
<circle cx="34.7" cy="289.2" r="6.4" fill="#6ef80c" stroke="#6ef80c" stroke-width="0.4"/>
<path d="M87.00,294.65 L94.00,294.65 L96.80,307.35 L84.20,307.35Z" fill="#6ef80c" stroke="#6ef80c" stroke-width="0.4"/>
<circle cx="121.2" cy="291.2" r="6.3" fill="#efefef" stroke="#7c7c7c" stroke-width="1.3"/>
<circle cx="121.2" cy="291.2" r="4.10" fill="none" stroke="#959595" stroke-width="0.9"/>
<circle cx="206" cy="296.7" r="6.6" fill="#6ef80c" stroke="#6ef80c" stroke-width="0.4"/>
<path d="M43.80,323.50 L56.80,323.50 L50.30,334.90Z" fill="#6ef80c" stroke="#6ef80c" stroke-width="0.4"/>
<circle cx="142.1" cy="332.7" r="6.7" fill="#6ef80c" stroke="#6ef80c" stroke-width="0.4"/>
<path d="M241.70,318.00 L248.90,318.00 L251.30,331.00 L239.30,331.00Z" fill="#6ef80c" stroke="#6ef80c" stroke-width="0.4"/>
<path d="M18.10,344.15 L24.90,344.15 L26.70,356.45 L16.30,356.45Z" fill="#6ef80c" stroke="#6ef80c" stroke-width="0.4"/>
<circle cx="71.4" cy="363.5" r="6.5" fill="#6ef80c" stroke="#6ef80c" stroke-width="0.4"/>
<circle cx="104.2" cy="363.5" r="6.2" fill="#efefef" stroke="#7c7c7c" stroke-width="1.3"/>
<circle cx="104.2" cy="363.5" r="4.00" fill="none" stroke="#959595" stroke-width="0.9"/>
<ellipse cx="191.2" cy="354.2" rx="13.8" ry="6.3" fill="#6ef80c" stroke="#6ef80c" stroke-width="0.4"/>
<path d="M37.00,386.20 L47.50,391.90 L37.00,397.60 L26.50,391.90Z" fill="#6ef80c" stroke="#6ef80c" stroke-width="0.4"/>
<circle cx="71.4" cy="396" r="7" fill="#6ef80c" stroke="#6ef80c" stroke-width="0.4"/>
<circle cx="114.4" cy="401.5" r="6.2" fill="#efefef" stroke="#7c7c7c" stroke-width="1.3"/>
<circle cx="114.4" cy="401.5" r="4.00" fill="none" stroke="#959595" stroke-width="0.9"/>
<circle cx="159.8" cy="405.8" r="6" fill="#efefef" stroke="#7c7c7c" stroke-width="1.3"/>
<circle cx="159.8" cy="405.8" r="3.80" fill="none" stroke="#959595" stroke-width="0.9"/>
<circle cx="205" cy="410.4" r="6" fill="#efefef" stroke="#7c7c7c" stroke-width="1.3"/>
<circle cx="205" cy="410.4" r="3.80" fill="none" stroke="#959595" stroke-width="0.9"/>
<circle cx="26" cy="427.6" r="6.5" fill="#6ef80c" stroke="#6ef80c" stroke-width="0.4"/>
<circle cx="55.8" cy="459.3" r="6.5" fill="#6ef80c" stroke="#6ef80c" stroke-width="0.4"/>
<circle cx="16" cy="470.8" r="6.8" fill="#6ef80c" stroke="#6ef80c" stroke-width="0.4"/>
<path d="M103.60,441.80 L109.60,456.80 L103.60,471.80 L97.60,456.80Z" fill="#6ef80c" stroke="#6ef80c" stroke-width="0.4"/>
<rect x="164.15" y="440.05" width="13.5" height="28.3" fill="#6ef80c" stroke="#6ef80c" stroke-width="0.4"/>
<ellipse cx="130.4" cy="478.6" rx="13.8" ry="5.8" fill="#6ef80c" stroke="#6ef80c" stroke-width="0.4"/>
<text x="100.80" y="226.30" font-family="'Liberation Sans', sans-serif" font-size="7.0" text-anchor="middle" fill="#42425a">NUAK2</text>
<text x="100.80" y="238.30" font-family="'Liberation Sans', sans-serif" font-size="4.8" text-anchor="middle" fill="#3c3c3c" stroke="#3c3c3c" stroke-width="0.08">-3.740</text>
<text x="130.20" y="226.70" font-family="'Liberation Sans', sans-serif" font-size="7.0" text-anchor="middle" fill="#42425a">CYR61*</text>
<text x="130.20" y="238.00" font-family="'Liberation Sans', sans-serif" font-size="4.8" text-anchor="middle" fill="#3c3c3c" stroke="#3c3c3c" stroke-width="0.08">-3.085</text>
<text x="171.20" y="219.70" font-family="'Liberation Sans', sans-serif" font-size="7.0" text-anchor="middle" fill="#42425a">CXCL2*</text>
<text x="173.20" y="231.55" font-family="'Liberation Sans', sans-serif" font-size="4.8" text-anchor="middle" fill="#3c3c3c" stroke="#3c3c3c" stroke-width="0.08">3.386</text>
<text x="215.40" y="229.20" font-family="'Liberation Sans', sans-serif" font-size="7.0" text-anchor="middle" fill="#42425a">NFIL3</text>
<text x="215.40" y="241.00" font-family="'Liberation Sans', sans-serif" font-size="4.8" text-anchor="middle" fill="#3c3c3c" stroke="#3c3c3c" stroke-width="0.08">-2.480</text>
<text x="81.00" y="245.30" font-family="'Liberation Sans', sans-serif" font-size="7.0" text-anchor="middle" fill="#42425a">CLCF1</text>
<text x="81.00" y="257.80" font-family="'Liberation Sans', sans-serif" font-size="4.8" text-anchor="middle" fill="#3c3c3c" stroke="#3c3c3c" stroke-width="0.08">-2.763</text>
<text x="52.00" y="253.10" font-family="'Liberation Sans', sans-serif" font-size="7.0" text-anchor="middle" fill="#42425a">STX3</text>
<text x="52.00" y="265.30" font-family="'Liberation Sans', sans-serif" font-size="4.8" text-anchor="middle" fill="#3c3c3c" stroke="#3c3c3c" stroke-width="0.08">-2.610</text>
<text x="185.00" y="255.10" font-family="'Liberation Sans', sans-serif" font-size="7.0" text-anchor="middle" fill="#42425a">DDIT3</text>
<text x="185.00" y="267.00" font-family="'Liberation Sans', sans-serif" font-size="4.8" text-anchor="middle" fill="#3c3c3c" stroke="#3c3c3c" stroke-width="0.08">-3.066</text>
<text x="241.00" y="277.80" font-family="'Liberation Sans', sans-serif" font-size="7.0" text-anchor="middle" fill="#42425a">ATF3</text>
<text x="241.00" y="289.10" font-family="'Liberation Sans', sans-serif" font-size="4.8" text-anchor="middle" fill="#3c3c3c" stroke="#3c3c3c" stroke-width="0.08">2.084</text>
<text x="34.70" y="291.50" font-family="'Liberation Sans', sans-serif" font-size="7.0" text-anchor="middle" fill="#42425a">IER3</text>
<text x="34.70" y="303.10" font-family="'Liberation Sans', sans-serif" font-size="4.8" text-anchor="middle" fill="#3c3c3c" stroke="#3c3c3c" stroke-width="0.08">-3.139</text>
<text x="90.50" y="303.30" font-family="'Liberation Sans', sans-serif" font-size="7.0" text-anchor="middle" fill="#42425a">MCL1</text>
<text x="90.50" y="315.15" font-family="'Liberation Sans', sans-serif" font-size="4.8" text-anchor="middle" fill="#3c3c3c" stroke="#3c3c3c" stroke-width="0.08">-3.125</text>
<text x="121.20" y="293.20" font-family="'Liberation Sans', sans-serif" font-size="5.6" text-anchor="middle" fill="#5a5a66">NFkB</text>
<text x="206.00" y="299.00" font-family="'Liberation Sans', sans-serif" font-size="6.0" text-anchor="middle" fill="#42425a">CSRNP1</text>
<text x="206.00" y="310.80" font-family="'Liberation Sans', sans-serif" font-size="4.8" text-anchor="middle" fill="#3c3c3c" stroke="#3c3c3c" stroke-width="0.08">-2.134</text>
<text x="50.30" y="331.20" font-family="'Liberation Sans', sans-serif" font-size="7.0" text-anchor="middle" fill="#42425a">PIM3</text>
<text x="50.30" y="342.20" font-family="'Liberation Sans', sans-serif" font-size="4.8" text-anchor="middle" fill="#3c3c3c" stroke="#3c3c3c" stroke-width="0.08">-2.442</text>
<text x="142.10" y="335.00" font-family="'Liberation Sans', sans-serif" font-size="7.0" text-anchor="middle" fill="#42425a">Ap1</text>
<text x="245.30" y="326.80" font-family="'Liberation Sans', sans-serif" font-size="7.0" text-anchor="middle" fill="#42425a">SLC30A1*</text>
<text x="245.30" y="338.80" font-family="'Liberation Sans', sans-serif" font-size="4.8" text-anchor="middle" fill="#3c3c3c" stroke="#3c3c3c" stroke-width="0.08">-2.346</text>
<text x="21.50" y="352.60" font-family="'Liberation Sans', sans-serif" font-size="7.0" text-anchor="middle" fill="#42425a">SLC1A5*</text>
<text x="21.50" y="364.25" font-family="'Liberation Sans', sans-serif" font-size="4.8" text-anchor="middle" fill="#3c3c3c" stroke="#3c3c3c" stroke-width="0.08">-2.281</text>
<text x="71.40" y="365.80" font-family="'Liberation Sans', sans-serif" font-size="7.0" text-anchor="middle" fill="#42425a">peptidase</text>
<text x="104.20" y="365.50" font-family="'Liberation Sans', sans-serif" font-size="5.6" text-anchor="middle" fill="#5a5a66">TGFB1</text>
<text x="191.20" y="356.50" font-family="'Liberation Sans', sans-serif" font-size="7.0" text-anchor="middle" fill="#42425a">JUN*</text>
<text x="37.00" y="394.20" font-family="'Liberation Sans', sans-serif" font-size="7.0" text-anchor="middle" fill="#42425a">PPP2R5C</text>
<text x="37.00" y="405.90" font-family="'Liberation Sans', sans-serif" font-size="4.8" text-anchor="middle" fill="#3c3c3c" stroke="#3c3c3c" stroke-width="0.08">-2.098</text>
<text x="71.40" y="398.30" font-family="'Liberation Sans', sans-serif" font-size="7.0" text-anchor="middle" fill="#42425a">EP2</text>
<text x="114.40" y="403.50" font-family="'Liberation Sans', sans-serif" font-size="5.6" text-anchor="middle" fill="#5a5a66">CG</text>
<text x="159.80" y="407.80" font-family="'Liberation Sans', sans-serif" font-size="5.6" text-anchor="middle" fill="#5a5a66">Pka</text>
<text x="205.00" y="412.70" font-family="'Liberation Sans', sans-serif" font-size="6.6" text-anchor="middle" fill="#42425a">ERK1/2</text>
<text x="26.00" y="429.90" font-family="'Liberation Sans', sans-serif" font-size="7.0" text-anchor="middle" fill="#42425a">PHLDA1*</text>
<text x="26.00" y="441.60" font-family="'Liberation Sans', sans-serif" font-size="4.8" text-anchor="middle" fill="#3c3c3c" stroke="#3c3c3c" stroke-width="0.08">-3.274</text>
<text x="55.80" y="461.60" font-family="'Liberation Sans', sans-serif" font-size="7.0" text-anchor="middle" fill="#42425a">ZNF808*</text>
<text x="55.80" y="473.30" font-family="'Liberation Sans', sans-serif" font-size="4.8" text-anchor="middle" fill="#3c3c3c" stroke="#3c3c3c" stroke-width="0.08">-2.056</text>
<text x="16.00" y="473.10" font-family="'Liberation Sans', sans-serif" font-size="7.0" text-anchor="middle" fill="#42425a">GADD45A</text>
<text x="16.00" y="485.10" font-family="'Liberation Sans', sans-serif" font-size="4.8" text-anchor="middle" fill="#3c3c3c" stroke="#3c3c3c" stroke-width="0.08">-2.250</text>
<text x="103.60" y="459.10" font-family="'Liberation Sans', sans-serif" font-size="7.0" text-anchor="middle" fill="#42425a">HMGCR</text>
<text x="103.60" y="478.60" font-family="'Liberation Sans', sans-serif" font-size="4.8" text-anchor="middle" fill="#3c3c3c" stroke="#3c3c3c" stroke-width="0.08">-2.520</text>
<text x="170.90" y="456.50" font-family="'Liberation Sans', sans-serif" font-size="7.0" text-anchor="middle" fill="#42425a">ADRB2*</text>
<text x="170.90" y="476.00" font-family="'Liberation Sans', sans-serif" font-size="4.8" text-anchor="middle" fill="#3c3c3c" stroke="#3c3c3c" stroke-width="0.08">-2.150</text>
<text x="130.40" y="480.90" font-family="'Liberation Sans', sans-serif" font-size="7.0" text-anchor="middle" fill="#42425a">BHLHB2</text>
<text x="130.40" y="490.40" font-family="'Liberation Sans', sans-serif" font-size="4.8" text-anchor="middle" fill="#3c3c3c" stroke="#3c3c3c" stroke-width="0.08">-3.329</text>
<circle cx="352.7" cy="206" r="6.8" fill="none" stroke="#4a4a4a" stroke-width="0.95"/>
<circle cx="437.5" cy="263.5" r="7.5" fill="none" stroke="#4a4a4a" stroke-width="0.95"/>
<circle cx="300.5" cy="309.5" r="14.2" fill="none" stroke="#4a4a4a" stroke-width="0.95"/>
<circle cx="350.2" cy="327.6" r="5.9" fill="none" stroke="#4a4a4a" stroke-width="0.95"/>
<circle cx="455" cy="347" r="7" fill="none" stroke="#4a4a4a" stroke-width="0.95"/>
<circle cx="297" cy="365.8" r="7.5" fill="none" stroke="#4a4a4a" stroke-width="0.95"/>
<circle cx="428" cy="428.8" r="7.3" fill="none" stroke="#4a4a4a" stroke-width="0.95"/>
<circle cx="351.5" cy="458.3" r="7.6" fill="none" stroke="#4a4a4a" stroke-width="0.95"/>
<line x1="349.64" y1="219.83" x2="334.42" y2="244.87" stroke="#5a5a5a" stroke-width="0.95"/>
<line x1="357.47" y1="219.57" x2="383.27" y2="245.37" stroke="#5a5a5a" stroke-width="0.95"/>
<line x1="364.46" y1="215.83" x2="398.28" y2="218.79" stroke="#5a5a5a" stroke-width="0.95"/>
<line x1="400.14" y1="248.64" x2="437.73" y2="243.05" stroke="#5a5a5a" stroke-width="0.95"/>
<line x1="349.13" y1="331.62" x2="332.58" y2="255.86" stroke="#5a5a5a" stroke-width="0.95"/>
<path d="M332.58,255.86 L336.32,260.78 L331.23,261.89Z" fill="#3a3a3a"/>
<line x1="385.93" y1="255.80" x2="352.63" y2="331.70" stroke="#5a5a5a" stroke-width="0.95"/>
<path d="M385.93,255.80 L386.06,261.97 L381.30,259.88Z" fill="#3a3a3a"/>
<line x1="389.64" y1="255.87" x2="402.98" y2="310.47" stroke="#5a5a5a" stroke-width="0.95"/>
<path d="M402.98,310.47 L399.12,305.65 L404.17,304.41Z" fill="#3a3a3a"/>
<line x1="391.05" y1="255.77" x2="427.40" y2="326.82" stroke="#5a5a5a" stroke-width="0.95"/>
<path d="M391.05,255.77 L395.91,259.57 L391.28,261.94Z" fill="#3a3a3a"/>
<line x1="367.11" y1="290.54" x2="431.59" y2="273.81" stroke="#5a5a5a" stroke-width="0.95"/>
<line x1="351.64" y1="331.63" x2="360.10" y2="297.63" stroke="#5a5a5a" stroke-width="0.95" stroke-dasharray="3.6 2.0"/>
<path d="M360.10,297.63 L361.27,303.69 L356.22,302.43Z" fill="#3a3a3a"/>
<line x1="359.57" y1="333.45" x2="398.80" y2="318.44" stroke="#5a5a5a" stroke-width="0.95"/>
<path d="M398.80,318.44 L394.50,322.87 L392.64,318.02Z" fill="#3a3a3a"/>
<line x1="345.64" y1="332.00" x2="296.46" y2="279.24" stroke="#5a5a5a" stroke-width="0.95"/>
<path d="M296.46,279.24 L302.18,281.57 L298.37,285.11Z" fill="#3a3a3a"/>
<path d="M345.64,332.00 L339.92,329.68 L343.72,326.13Z" fill="#3a3a3a"/>
<line x1="339.49" y1="334.42" x2="304.68" y2="326.12" stroke="#5a5a5a" stroke-width="0.95"/>
<path d="M304.68,326.12 L310.73,324.89 L309.53,329.95Z" fill="#3a3a3a"/>
<line x1="338.92" y1="339.04" x2="296.11" y2="346.73" stroke="#5a5a5a" stroke-width="0.95"/>
<line x1="343.79" y1="341.58" x2="301.91" y2="371.05" stroke="#5a5a5a" stroke-width="0.95"/>
<path d="M301.91,371.05 L304.99,365.70 L307.98,369.95Z" fill="#3a3a3a"/>
<line x1="347.29" y1="342.24" x2="328.47" y2="374.95" stroke="#5a5a5a" stroke-width="0.95"/>
<line x1="302.62" y1="330.55" x2="323.53" y2="374.81" stroke="#5a5a5a" stroke-width="0.95"/>
<line x1="350.49" y1="342.40" x2="351.79" y2="378.50" stroke="#5a5a5a" stroke-width="0.95" stroke-dasharray="3.6 2.0"/>
<path d="M351.79,378.50 L348.99,373.00 L354.18,372.81Z" fill="#3a3a3a"/>
<line x1="362.47" y1="336.22" x2="417.84" y2="332.68" stroke="#5a5a5a" stroke-width="0.95"/>
<path d="M362.47,336.22 L367.89,333.27 L368.23,338.46Z" fill="#3a3a3a"/>
<line x1="354.14" y1="342.13" x2="398.91" y2="402.00" stroke="#5a5a5a" stroke-width="0.95" stroke-dasharray="3.6 2.0"/>
<line x1="354.21" y1="342.12" x2="423.18" y2="432.39" stroke="#5a5a5a" stroke-width="0.95" stroke-dasharray="3.6 2.0"/>
<path d="M423.18,432.39 L417.71,429.52 L421.84,426.37Z" fill="#3a3a3a"/>
<path d="M354.21,342.12 L359.68,344.99 L355.54,348.15Z" fill="#3a3a3a"/>
<line x1="349.35" y1="342.38" x2="337.29" y2="410.72" stroke="#5a5a5a" stroke-width="0.95"/>
<line x1="430.64" y1="326.71" x2="436.66" y2="278.25" stroke="#5a5a5a" stroke-width="0.95"/>
<path d="M436.66,278.25 L438.55,284.13 L433.39,283.49Z" fill="#3a3a3a"/>
<line x1="433.13" y1="327.02" x2="439.14" y2="278.56" stroke="#5a5a5a" stroke-width="0.95"/>
<path d="M439.14,278.56 L441.03,284.44 L435.87,283.80Z" fill="#3a3a3a"/>
<line x1="439.58" y1="266.71" x2="447.50" y2="246.43" stroke="#5a5a5a" stroke-width="0.95"/>
<path d="M447.50,246.43 L447.88,252.59 L443.04,250.70Z" fill="#3a3a3a"/>
<line x1="470.64" y1="282.79" x2="461.87" y2="296.88" stroke="#5a5a5a" stroke-width="0.95"/>
<line x1="454.79" y1="305.99" x2="434.61" y2="327.08" stroke="#5a5a5a" stroke-width="0.95"/>
<line x1="434.93" y1="336.66" x2="450.26" y2="351.50" stroke="#5a5a5a" stroke-width="0.95"/>
<path d="M450.26,351.50 L444.43,349.47 L448.04,345.74Z" fill="#3a3a3a"/>
<line x1="486.52" y1="332.22" x2="459.26" y2="352.12" stroke="#5a5a5a" stroke-width="0.95"/>
<line x1="399.92" y1="351.94" x2="420.66" y2="366.42" stroke="#5a5a5a" stroke-width="0.95"/>
<path d="M420.66,366.42 L414.58,365.35 L417.56,361.08Z" fill="#3a3a3a"/>
<line x1="430.80" y1="367.21" x2="449.20" y2="358.19" stroke="#5a5a5a" stroke-width="0.95"/>
<line x1="486.84" y1="372.04" x2="431.40" y2="370.02" stroke="#5a5a5a" stroke-width="0.95" stroke-dasharray="3.6 2.0"/>
<path d="M431.40,370.02 L437.09,367.62 L436.90,372.82Z" fill="#3a3a3a"/>
<line x1="452.62" y1="361.19" x2="429.01" y2="431.43" stroke="#5a5a5a" stroke-width="0.95"/>
<line x1="395.17" y1="375.44" x2="401.13" y2="400.96" stroke="#5a5a5a" stroke-width="0.95" stroke-dasharray="3.6 2.0"/>
<path d="M401.13,400.96 L397.33,396.10 L402.39,394.91Z" fill="#3a3a3a"/>
<line x1="392.25" y1="376.13" x2="398.21" y2="401.64" stroke="#5a5a5a" stroke-width="0.95" stroke-dasharray="3.6 2.0"/>
<line x1="396.44" y1="374.99" x2="424.23" y2="431.74" stroke="#5a5a5a" stroke-width="0.95" stroke-dasharray="3.6 2.0"/>
<path d="M424.23,431.74 L419.43,427.86 L424.10,425.57Z" fill="#3a3a3a"/>
<line x1="406.25" y1="411.48" x2="423.06" y2="432.48" stroke="#5a5a5a" stroke-width="0.95" stroke-dasharray="3.6 2.0"/>
<path d="M423.06,432.48 L417.53,429.74 L421.59,426.49Z" fill="#3a3a3a"/>
<line x1="365.36" y1="424.93" x2="353.88" y2="390.20" stroke="#5a5a5a" stroke-width="0.95" stroke-dasharray="3.6 2.0"/>
<path d="M353.88,390.20 L358.11,394.70 L353.17,396.33Z" fill="#3a3a3a"/>
<line x1="371.40" y1="428.66" x2="397.59" y2="410.25" stroke="#5a5a5a" stroke-width="0.95" stroke-dasharray="3.6 2.0"/>
<path d="M397.59,410.25 L394.50,415.60 L391.51,411.34Z" fill="#3a3a3a"/>
<line x1="371.79" y1="433.32" x2="399.56" y2="445.76" stroke="#5a5a5a" stroke-width="0.95" stroke-dasharray="3.6 2.0"/>
<path d="M399.56,445.76 L393.38,445.84 L395.51,441.10Z" fill="#3a3a3a"/>
<line x1="357.54" y1="462.66" x2="399.19" y2="449.97" stroke="#5a5a5a" stroke-width="0.95"/>
<line x1="467.90" y1="429.88" x2="433.20" y2="436.26" stroke="#5a5a5a" stroke-width="0.95"/>
<path d="M433.20,436.26 L438.23,432.69 L439.17,437.81Z" fill="#3a3a3a"/>
<line x1="504.31" y1="426.72" x2="479.79" y2="428.39" stroke="#5a5a5a" stroke-width="0.95" stroke-dasharray="3.6 2.0"/>
<path d="M479.79,428.39 L485.20,425.42 L485.55,430.61Z" fill="#3a3a3a"/>
<line x1="444.73" y1="459.44" x2="430.95" y2="442.31" stroke="#5a5a5a" stroke-width="0.95" stroke-dasharray="3.6 2.0"/>
<path d="M430.95,442.31 L436.48,445.04 L432.43,448.30Z" fill="#3a3a3a"/>
<line x1="356.90" y1="387.96" x2="421.85" y2="433.77" stroke="#5a5a5a" stroke-width="0.95"/>
<path d="M356.90,387.96 L362.98,389.06 L359.98,393.31Z" fill="#3a3a3a"/>
<line x1="308.08" y1="402.69" x2="327.79" y2="412.20" stroke="#5a5a5a" stroke-width="0.95"/>
<line x1="425.63" y1="375.70" x2="426.86" y2="431.10" stroke="#5a5a5a" stroke-width="0.95"/>
<path d="M425.63,375.70 L428.35,381.24 L423.16,381.35Z" fill="#3a3a3a"/>
<line x1="450.30" y1="359.74" x2="406.78" y2="402.59" stroke="#5a5a5a" stroke-width="0.95" stroke-dasharray="3.6 2.0"/>
<path d="M450.30,359.74 L448.13,365.52 L444.48,361.82Z" fill="#3a3a3a"/>
<line x1="388.15" y1="371.61" x2="357.65" y2="382.49" stroke="#5a5a5a" stroke-width="0.95" stroke-dasharray="3.6 2.0"/>
<path d="M357.65,382.49 L362.05,378.16 L363.80,383.05Z" fill="#3a3a3a"/>
<line x1="506.65" y1="421.44" x2="458.16" y2="360.22" stroke="#5a5a5a" stroke-width="0.95" stroke-dasharray="3.6 2.0"/>
<path d="M458.16,360.22 L463.68,363.00 L459.60,366.23Z" fill="#3a3a3a"/>
<line x1="402.86" y1="412.79" x2="404.69" y2="443.11" stroke="#5a5a5a" stroke-width="0.95" stroke-dasharray="3.6 2.0"/>
<line x1="456.00" y1="361.31" x2="472.27" y2="423.00" stroke="#5a5a5a" stroke-width="0.95"/>
<line x1="406.30" y1="443.21" x2="424.01" y2="375.51" stroke="#5a5a5a" stroke-width="0.95" stroke-dasharray="3.6 2.0"/>
<path d="M424.01,375.51 L425.11,381.58 L420.08,380.27Z" fill="#3a3a3a"/>
<line x1="422.39" y1="374.81" x2="405.67" y2="401.70" stroke="#5a5a5a" stroke-width="0.95" stroke-dasharray="3.6 2.0"/>
<line x1="356.52" y1="341.66" x2="389.00" y2="366.00" stroke="#5a5a5a" stroke-width="0.95" stroke-dasharray="3.6 2.0"/>
<path d="M348.69,211.49 L344.12,210.63 L346.48,207.40Z" fill="#3a3a3a"/>
<path d="M432.39,268.99 L427.96,267.60 L430.68,264.67Z" fill="#3a3a3a"/>
<path d="M347.12,332.63 L342.50,332.15 L344.58,328.74Z" fill="#3a3a3a"/>
<path d="M353.38,332.57 L355.84,328.62 L358.00,331.98Z" fill="#3a3a3a"/>
<path d="M449.95,351.85 L445.60,350.20 L448.48,347.43Z" fill="#3a3a3a"/>
<path d="M291.92,371.31 L287.47,369.94 L290.18,367.00Z" fill="#3a3a3a"/>
<path d="M422.24,433.28 L418.08,431.19 L421.24,428.73Z" fill="#3a3a3a"/>
<path d="M345.98,463.53 L341.64,461.86 L344.55,459.11Z" fill="#3a3a3a"/>
<ellipse cx="352.7" cy="214.8" rx="12" ry="5.2" fill="#6ef80c" stroke="#6ef80c" stroke-width="0.4"/>
<path d="M407.50,214.10 L418.30,219.60 L407.50,225.10 L396.70,219.60Z" fill="#6ef80c" stroke="#6ef80c" stroke-width="0.4"/>
<circle cx="331.3" cy="250" r="6" fill="#6ef80c" stroke="#6ef80c" stroke-width="0.4"/>
<ellipse cx="388.3" cy="250.4" rx="12.5" ry="5.5" fill="#6ef80c" stroke="#6ef80c" stroke-width="0.4"/>
<ellipse cx="449.5" cy="241.3" rx="12.5" ry="5.2" fill="#6ef80c" stroke="#6ef80c" stroke-width="0.4"/>
<circle cx="292.5" cy="275" r="5.8" fill="#6ef80c" stroke="#6ef80c" stroke-width="0.4"/>
<circle cx="437.4" cy="272.3" r="6" fill="#ec1534" stroke="#ec1534" stroke-width="0.4"/>
<ellipse cx="474" cy="277.4" rx="12.3" ry="5.6" fill="#6ef80c" stroke="#6ef80c" stroke-width="0.4"/>
<circle cx="361.5" cy="292" r="5.8" fill="#c6c6c6" stroke="#7c7c7c" stroke-width="1.3"/>
<circle cx="361.5" cy="292" r="3.60" fill="none" stroke="#959595" stroke-width="0.9"/>
<circle cx="458.8" cy="301.8" r="5.8" fill="#6ef80c" stroke="#6ef80c" stroke-width="0.4"/>
<circle cx="404.4" cy="316.3" r="6" fill="#c6c6c6" stroke="#7c7c7c" stroke-width="1.3"/>
<circle cx="404.4" cy="316.3" r="3.80" fill="none" stroke="#959595" stroke-width="0.9"/>
<path d="M300.00,313.80 L305.20,325.00 L300.00,336.20 L294.80,325.00Z" fill="#6ef80c" stroke="#6ef80c" stroke-width="0.4"/>
<ellipse cx="350.3" cy="337" rx="12.3" ry="5.4" fill="#6ef80c" stroke="#6ef80c" stroke-width="0.4"/>
<ellipse cx="430" cy="331.9" rx="12.3" ry="5.2" fill="#6ef80c" stroke="#6ef80c" stroke-width="0.4"/>
<circle cx="491.2" cy="328.8" r="5.8" fill="#6ef80c" stroke="#6ef80c" stroke-width="0.4"/>
<ellipse cx="284.6" cy="348.8" rx="12.5" ry="5.3" fill="#6ef80c" stroke="#6ef80c" stroke-width="0.4"/>
<circle cx="395" cy="348.5" r="6" fill="url(#gpink)"/>
<circle cx="454.5" cy="355.6" r="5.9" fill="#6ef80c" stroke="#6ef80c" stroke-width="0.4"/>
<circle cx="297" cy="374.5" r="6" fill="#6ef80c" stroke="#6ef80c" stroke-width="0.4"/>
<path d="M319.60,374.80 L332.00,374.80 L325.80,385.10Z" fill="#6ef80c" stroke="#6ef80c" stroke-width="0.4"/>
<circle cx="352" cy="384.5" r="6" fill="#c6c6c6" stroke="#7c7c7c" stroke-width="1.3"/>
<circle cx="352" cy="384.5" r="3.80" fill="none" stroke="#959595" stroke-width="0.9"/>
<circle cx="393.8" cy="369.6" r="6" fill="#c6c6c6" stroke="#7c7c7c" stroke-width="1.3"/>
<circle cx="393.8" cy="369.6" r="3.80" fill="none" stroke="#959595" stroke-width="0.9"/>
<circle cx="425.5" cy="369.8" r="5.9" fill="#ec1534" stroke="#ec1534" stroke-width="0.4"/>
<ellipse cx="499.3" cy="372.5" rx="12.5" ry="5.5" fill="#6ef80c" stroke="#6ef80c" stroke-width="0.4"/>
<circle cx="302.5" cy="400" r="6.2" fill="#6ef80c" stroke="#6ef80c" stroke-width="0.4"/>
<circle cx="402.5" cy="406.8" r="6" fill="#c6c6c6" stroke="#7c7c7c" stroke-width="1.3"/>
<circle cx="402.5" cy="406.8" r="3.80" fill="none" stroke="#959595" stroke-width="0.9"/>
<ellipse cx="336.3" cy="416.3" rx="12.5" ry="5.6" fill="#6ef80c" stroke="#6ef80c" stroke-width="0.4"/>
<circle cx="427" cy="437.4" r="6.3" fill="url(#gpink2)"/>
<circle cx="473.8" cy="428.8" r="6" fill="#c6c6c6" stroke="#7c7c7c" stroke-width="1.3"/>
<circle cx="473.8" cy="428.8" r="3.80" fill="none" stroke="#959595" stroke-width="0.9"/>
<circle cx="510.5" cy="426.3" r="6.2" fill="#6ef80c" stroke="#6ef80c" stroke-width="0.4"/>
<path d="M367.50,420.40 L372.70,431.40 L367.50,442.40 L362.30,431.40Z" fill="#6ef80c" stroke="#6ef80c" stroke-width="0.4"/>
<path d="M398.80,444.60 L411.20,444.60 L405.00,454.80Z" fill="#6ef80c" stroke="#6ef80c" stroke-width="0.4"/>
<path d="M345.10,460.20 L357.90,460.20 L351.50,471.40Z" fill="#6ef80c" stroke="#6ef80c" stroke-width="0.4"/>
<circle cx="448.8" cy="464.5" r="6.5" fill="#6ef80c" stroke="#6ef80c" stroke-width="0.4"/>
<text x="352.70" y="217.10" font-family="'Liberation Sans', sans-serif" font-size="5.9" text-anchor="middle" fill="#42425a">MLL*</text>
<text x="352.70" y="228.30" font-family="'Liberation Sans', sans-serif" font-size="4.8" text-anchor="middle" fill="#3c3c3c" stroke="#3c3c3c" stroke-width="0.08">-3.276</text>
<text x="407.50" y="221.90" font-family="'Liberation Sans', sans-serif" font-size="5.9" text-anchor="middle" fill="#42425a">SENP5*</text>
<text x="407.50" y="231.90" font-family="'Liberation Sans', sans-serif" font-size="4.8" text-anchor="middle" fill="#3c3c3c" stroke="#3c3c3c" stroke-width="0.08">-4.869</text>
<text x="331.30" y="252.30" font-family="'Liberation Sans', sans-serif" font-size="5.9" text-anchor="middle" fill="#42425a" textLength="85" lengthAdjust="spacingAndGlyphs">PPP1R15A (includes EG:23645)</text>
<text x="331.30" y="263.50" font-family="'Liberation Sans', sans-serif" font-size="4.8" text-anchor="middle" fill="#3c3c3c" stroke="#3c3c3c" stroke-width="0.08">-2.847</text>
<text x="388.30" y="252.70" font-family="'Liberation Sans', sans-serif" font-size="5.9" text-anchor="middle" fill="#42425a">E2F6*</text>
<text x="388.30" y="264.20" font-family="'Liberation Sans', sans-serif" font-size="4.8" text-anchor="middle" fill="#3c3c3c" stroke="#3c3c3c" stroke-width="0.08">-2.946</text>
<text x="449.50" y="243.60" font-family="'Liberation Sans', sans-serif" font-size="5.9" text-anchor="middle" fill="#42425a">EPC1*</text>
<text x="452.50" y="254.80" font-family="'Liberation Sans', sans-serif" font-size="4.8" text-anchor="middle" fill="#3c3c3c" stroke="#3c3c3c" stroke-width="0.08">-2.711</text>
<text x="292.50" y="277.30" font-family="'Liberation Sans', sans-serif" font-size="5.9" text-anchor="middle" fill="#42425a">RPL22*</text>
<text x="292.50" y="288.30" font-family="'Liberation Sans', sans-serif" font-size="4.8" text-anchor="middle" fill="#3c3c3c" stroke="#3c3c3c" stroke-width="0.08">-2.784</text>
<text x="437.40" y="274.60" font-family="'Liberation Sans', sans-serif" font-size="5.9" text-anchor="middle" fill="#42425a">FOS</text>
<text x="437.40" y="285.80" font-family="'Liberation Sans', sans-serif" font-size="4.8" text-anchor="middle" fill="#3c3c3c" stroke="#3c3c3c" stroke-width="0.08">7.541</text>
<text x="474.00" y="279.70" font-family="'Liberation Sans', sans-serif" font-size="5.9" text-anchor="middle" fill="#42425a">BCOR*</text>
<text x="474.00" y="291.30" font-family="'Liberation Sans', sans-serif" font-size="4.8" text-anchor="middle" fill="#3c3c3c" stroke="#3c3c3c" stroke-width="0.08">-2.819</text>
<text x="361.50" y="294.30" font-family="'Liberation Sans', sans-serif" font-size="5.8" text-anchor="middle" fill="#42425a" textLength="20" lengthAdjust="spacingAndGlyphs">Ferritin</text>
<text x="458.80" y="304.10" font-family="'Liberation Sans', sans-serif" font-size="5.9" text-anchor="middle" fill="#42425a">PCGF1</text>
<text x="458.80" y="315.10" font-family="'Liberation Sans', sans-serif" font-size="4.8" text-anchor="middle" fill="#3c3c3c" stroke="#3c3c3c" stroke-width="0.08">-2.821</text>
<text x="404.40" y="318.30" font-family="'Liberation Sans', sans-serif" font-size="5.6" text-anchor="middle" fill="#5a5a66">Tk</text>
<text x="300.00" y="327.30" font-family="'Liberation Sans', sans-serif" font-size="5.9" text-anchor="middle" fill="#42425a">SMAD3</text>
<text x="300.00" y="344.30" font-family="'Liberation Sans', sans-serif" font-size="4.8" text-anchor="middle" fill="#3c3c3c" stroke="#3c3c3c" stroke-width="0.08">-3.600</text>
<text x="350.30" y="339.30" font-family="'Liberation Sans', sans-serif" font-size="5.9" text-anchor="middle" fill="#42425a">MYC*</text>
<text x="430.00" y="334.20" font-family="'Liberation Sans', sans-serif" font-size="5.9" text-anchor="middle" fill="#42425a">E2F2*</text>
<text x="430.00" y="345.40" font-family="'Liberation Sans', sans-serif" font-size="4.8" text-anchor="middle" fill="#3c3c3c" stroke="#3c3c3c" stroke-width="0.08">-2.966</text>
<text x="491.20" y="331.10" font-family="'Liberation Sans', sans-serif" font-size="5.9" text-anchor="middle" fill="#42425a">KBTBD2*</text>
<text x="491.20" y="342.10" font-family="'Liberation Sans', sans-serif" font-size="4.8" text-anchor="middle" fill="#3c3c3c" stroke="#3c3c3c" stroke-width="0.08">-2.217</text>
<text x="284.60" y="351.10" font-family="'Liberation Sans', sans-serif" font-size="5.9" text-anchor="middle" fill="#42425a">TAF1A</text>
<text x="284.60" y="362.40" font-family="'Liberation Sans', sans-serif" font-size="4.8" text-anchor="middle" fill="#3c3c3c" stroke="#3c3c3c" stroke-width="0.08">-2.324</text>
<text x="395.00" y="350.80" font-family="'Liberation Sans', sans-serif" font-size="5.9" text-anchor="middle" fill="#42425a">Alpha actin</text>
<text x="454.50" y="357.90" font-family="'Liberation Sans', sans-serif" font-size="5.9" text-anchor="middle" fill="#42425a">E2F*</text>
<text x="454.50" y="369.00" font-family="'Liberation Sans', sans-serif" font-size="4.8" text-anchor="middle" fill="#3c3c3c" stroke="#3c3c3c" stroke-width="0.08">-2.054</text>
<text x="297.00" y="376.80" font-family="'Liberation Sans', sans-serif" font-size="5.9" text-anchor="middle" fill="#42425a">CDR2*</text>
<text x="297.00" y="388.00" font-family="'Liberation Sans', sans-serif" font-size="4.8" text-anchor="middle" fill="#3c3c3c" stroke="#3c3c3c" stroke-width="0.08">-2.962</text>
<text x="325.80" y="381.90" font-family="'Liberation Sans', sans-serif" font-size="5.9" text-anchor="middle" fill="#42425a">PIM1</text>
<text x="325.80" y="392.90" font-family="'Liberation Sans', sans-serif" font-size="4.8" text-anchor="middle" fill="#3c3c3c" stroke="#3c3c3c" stroke-width="0.08">-2.809</text>
<text x="352.00" y="386.50" font-family="'Liberation Sans', sans-serif" font-size="5.6" text-anchor="middle" fill="#5a5a66">Rb</text>
<text x="393.80" y="371.60" font-family="'Liberation Sans', sans-serif" font-size="5.6" text-anchor="middle" fill="#5a5a66">Igf</text>
<text x="425.50" y="372.10" font-family="'Liberation Sans', sans-serif" font-size="5.9" text-anchor="middle" fill="#42425a">ACTA2</text>
<text x="425.50" y="383.20" font-family="'Liberation Sans', sans-serif" font-size="4.8" text-anchor="middle" fill="#3c3c3c" stroke="#3c3c3c" stroke-width="0.08">-3.030</text>
<text x="499.30" y="374.80" font-family="'Liberation Sans', sans-serif" font-size="5.9" text-anchor="middle" fill="#42425a">FOXA1*</text>
<text x="499.30" y="386.30" font-family="'Liberation Sans', sans-serif" font-size="4.8" text-anchor="middle" fill="#3c3c3c" stroke="#3c3c3c" stroke-width="0.08">-2.219</text>
<text x="302.50" y="402.30" font-family="'Liberation Sans', sans-serif" font-size="5.9" text-anchor="middle" fill="#42425a">TADA1L</text>
<text x="302.50" y="413.70" font-family="'Liberation Sans', sans-serif" font-size="4.8" text-anchor="middle" fill="#3c3c3c" stroke="#3c3c3c" stroke-width="0.08">-3.609</text>
<text x="402.50" y="408.80" font-family="'Liberation Sans', sans-serif" font-size="5.6" text-anchor="middle" fill="#5a5a66">Rb</text>
<text x="336.30" y="418.60" font-family="'Liberation Sans', sans-serif" font-size="5.9" text-anchor="middle" fill="#42425a">TAF15L*</text>
<text x="336.30" y="430.20" font-family="'Liberation Sans', sans-serif" font-size="4.8" text-anchor="middle" fill="#3c3c3c" stroke="#3c3c3c" stroke-width="0.08">-3.676</text>
<text x="427.00" y="439.70" font-family="'Liberation Sans', sans-serif" font-size="5.8" text-anchor="middle" fill="#42425a">FAK</text>
<text x="473.80" y="431.10" font-family="'Liberation Sans', sans-serif" font-size="5.8" text-anchor="middle" fill="#42425a" textLength="34" lengthAdjust="spacingAndGlyphs">Alpha Actinin</text>
<text x="510.50" y="428.60" font-family="'Liberation Sans', sans-serif" font-size="5.9" text-anchor="middle" fill="#42425a">Calpain</text>
<text x="367.50" y="433.70" font-family="'Liberation Sans', sans-serif" font-size="5.9" text-anchor="middle" fill="#42425a">GNA12*</text>
<text x="367.50" y="451.20" font-family="'Liberation Sans', sans-serif" font-size="4.8" text-anchor="middle" fill="#3c3c3c" stroke="#3c3c3c" stroke-width="0.08">-2.712</text>
<text x="405.00" y="450.50" font-family="'Liberation Sans', sans-serif" font-size="5.6" text-anchor="middle" fill="#42425a">EGR1</text>
<text x="405.00" y="463.00" font-family="'Liberation Sans', sans-serif" font-size="4.8" text-anchor="middle" fill="#3c3c3c" stroke="#3c3c3c" stroke-width="0.08">-2.290</text>
<text x="351.50" y="466.80" font-family="'Liberation Sans', sans-serif" font-size="5.9" text-anchor="middle" fill="#42425a">PTPN*</text>
<text x="351.50" y="478.30" font-family="'Liberation Sans', sans-serif" font-size="4.8" text-anchor="middle" fill="#3c3c3c" stroke="#3c3c3c" stroke-width="0.08">-2.142</text>
<text x="448.80" y="466.80" font-family="'Liberation Sans', sans-serif" font-size="5.9" text-anchor="middle" fill="#42425a">CDC42EP2</text>
<text x="448.80" y="478.50" font-family="'Liberation Sans', sans-serif" font-size="4.8" text-anchor="middle" fill="#3c3c3c" stroke="#3c3c3c" stroke-width="0.08">-3.128</text>
<text x="5" y="208.7" font-family="'Liberation Sans', sans-serif" font-size="12.5" text-anchor="start" font-weight="bold" fill="#000" stroke="#000" stroke-width="0.22">C</text>
<text x="281.5" y="208.7" font-family="'Liberation Sans', sans-serif" font-size="12.5" text-anchor="start" font-weight="bold" fill="#000" stroke="#000" stroke-width="0.22">D</text>
</svg></body></html>
